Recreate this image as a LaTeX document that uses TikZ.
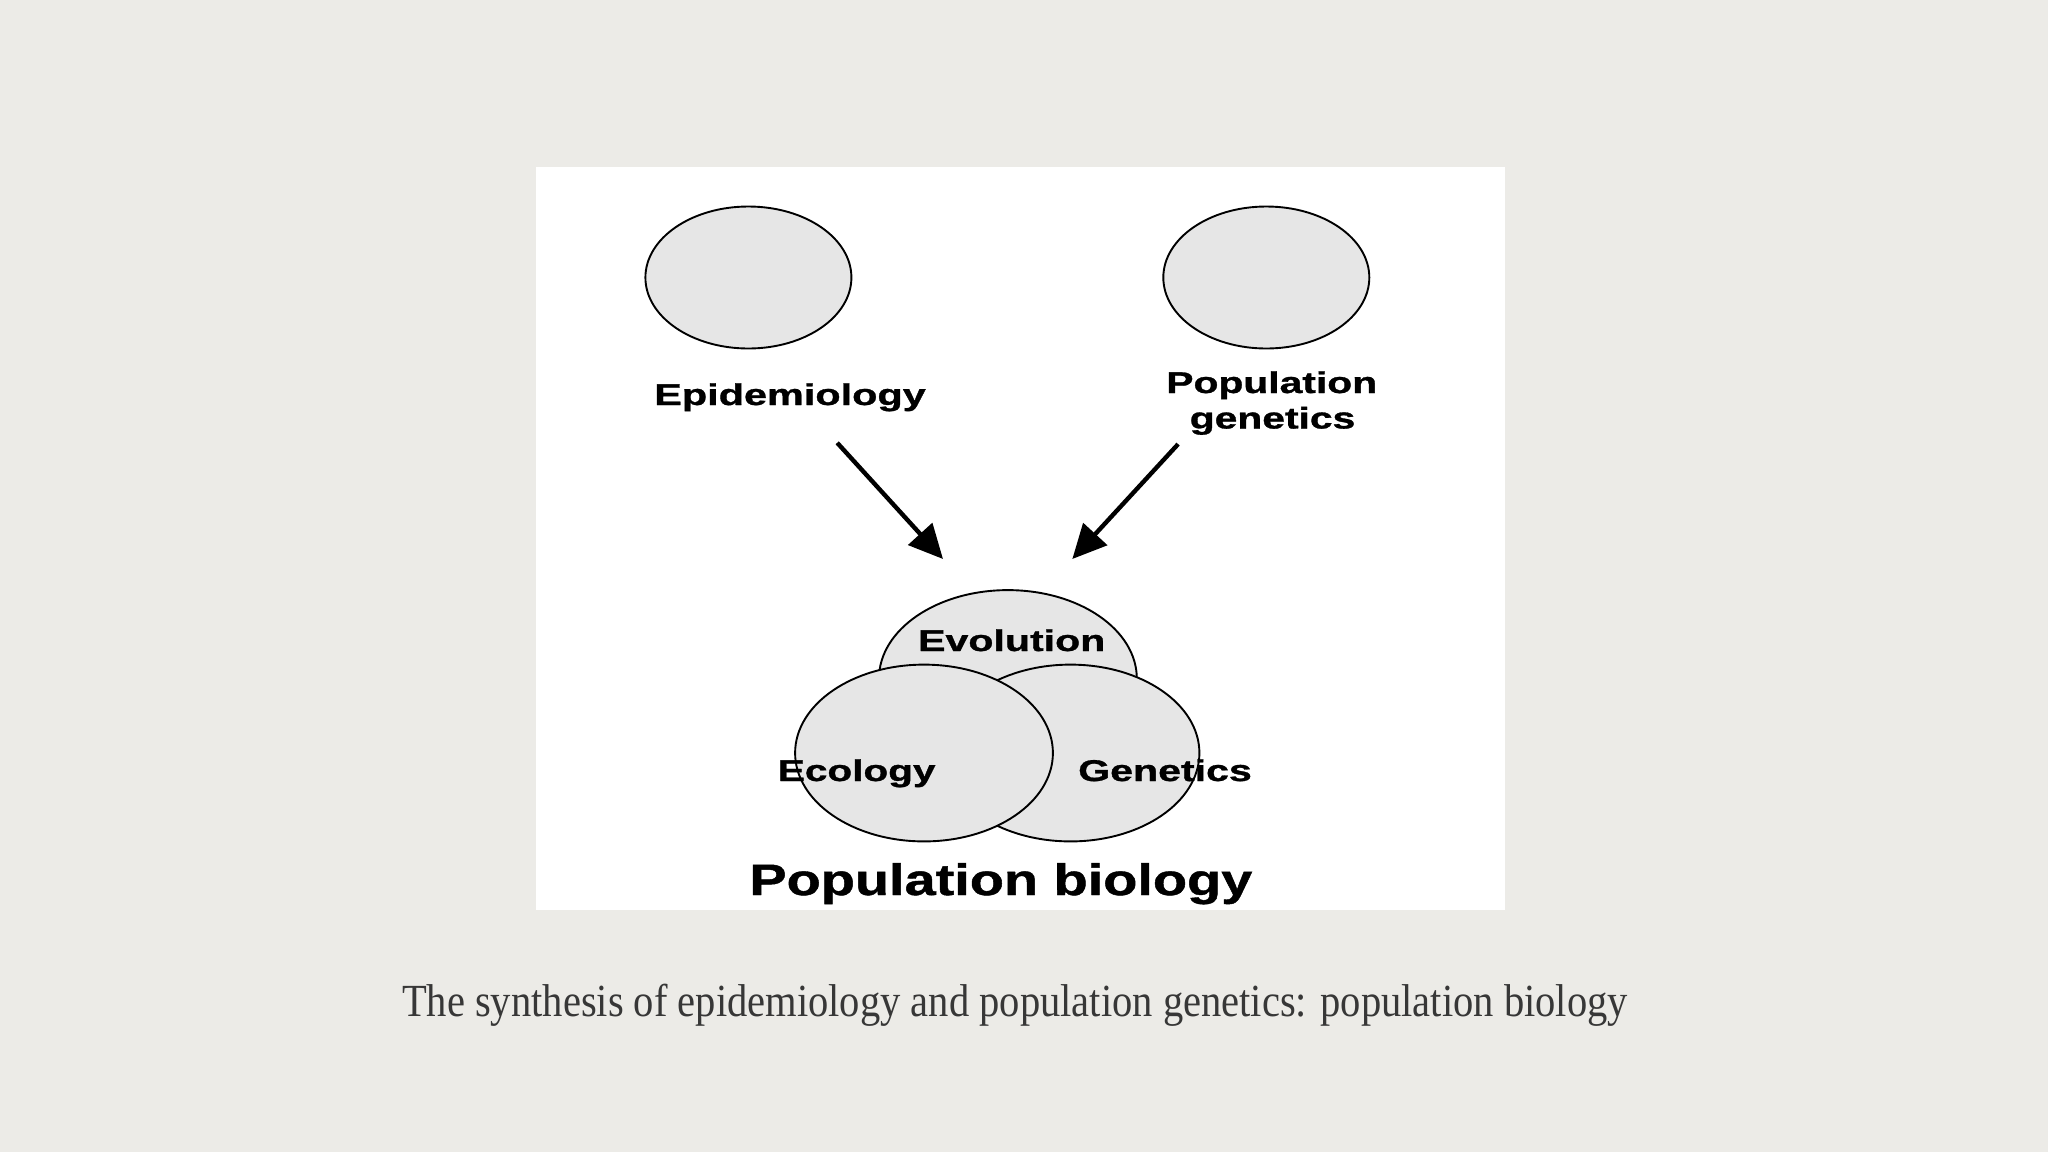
\documentclass[tikz,border=0pt]{standalone}
\usepackage{fontspec}
\setmainfont{Liberation Serif}
\newfontfamily\labelfont{Liberation Sans}[BoldFeatures={FakeBold=0.9}]
\usetikzlibrary{arrows.meta,shapes.geometric}
\definecolor{bgcol}{RGB}{236,235,231}
\definecolor{circfill}{RGB}{230,230,230}
\definecolor{captioncol}{RGB}{55,55,55}
\newcommand{\widetext}[2]{\scalebox{#1}[1]{#2}}
\tikzset{
  bubble/.style={ellipse, draw=black, line width=0.95pt, fill=circfill, inner sep=0pt},
  lbl/.style={font=\labelfont\bfseries\fontsize{15}{18}\selectfont, inner sep=0pt, anchor=base},
  biglbl/.style={font=\labelfont\bfseries\fontsize{22}{26}\selectfont, inner sep=0pt, anchor=base},
  bigarrow/.style={line width=2.2pt, -{Triangle[length=17pt,width=16pt]}}
}
\begin{document}
\begin{tikzpicture}[x=0.5pt,y=-0.5pt]
\fill[bgcol] (0,0) rectangle (2048,1152);
\useasboundingbox (0,0) rectangle (2048,1152);
\fill[white] (535.5,167.2) rectangle (1504.7,910.4);
% top circles
\node[bubble, minimum width=206pt*0.5, minimum height=142pt*0.5] (epic) at (748.4,277.5) {};
\node[bubble, minimum width=206pt*0.5, minimum height=142pt*0.5] (popgc) at (1266.3,277.5) {};
\node[lbl] (epi) at (790,405) {\widetext{1.38}{Epidemiology}};
\node[lbl] (popg1) at (1271.7,393) {\widetext{1.36}{Population}};
\node[lbl] (popg2) at (1272.5,428.5) {\widetext{1.36}{genetics}};
% arrows
\coordinate (a1s) at (837.2,442.8);
\coordinate (a1e) at (943,559);
\coordinate (a2s) at (1178.1,444.1);
\coordinate (a2e) at (1072.3,559);
\draw[bigarrow] (a1s) -- (a1e);
\draw[bigarrow] (a2s) -- (a2e);
% venn
\node[bubble, minimum width=257.8pt*0.5, minimum height=176.8pt*0.5] (evo) at (1007.9,678.5) {};
\node[bubble, minimum width=257.8pt*0.5, minimum height=176.8pt*0.5] (gen) at (1070.5,753) {};
\node[bubble, minimum width=257.8pt*0.5, minimum height=176.8pt*0.5] (eco) at (924,753) {};
\node[lbl] (evol) at (1011.7,651) {\widetext{1.37}{Evolution}};
\node[lbl] (ecol) at (856.7,781) {\widetext{1.35}{Ecology}};
\node[lbl] (genl) at (1165,781) {\widetext{1.37}{Genetics}};
\node[biglbl] (popb) at (1000.8,895) {\widetext{1.27}{Population biology}};
% caption
\node[inner sep=0pt, text=captioncol] (cap) at (1014.9,1005.7) {\scalebox{0.881}[1]{\fontsize{23}{27}\selectfont The synthesis of epidemiology and population genetics: population biology}};
\end{tikzpicture}
\end{document}
